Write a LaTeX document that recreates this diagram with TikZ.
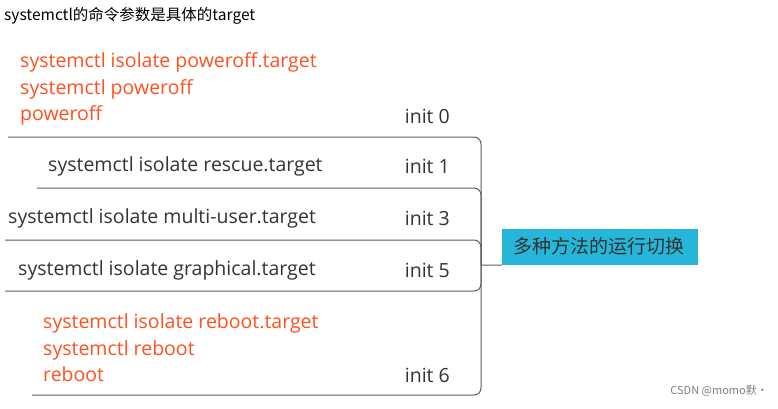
\documentclass[tikz,border=0pt]{standalone}
\usepackage{fontspec}
\setmainfont{Open Sans}
\newfontfamily\cjk{Noto Sans CJK SC}
\definecolor{hot}{HTML}{FF5020}
\definecolor{ink}{HTML}{333333}
\definecolor{rootblue}{HTML}{26B6DA}
\tikzset{
  leaf/.style={anchor=west, inner sep=0pt, text=ink, font=\fontsize{19.5}{20}\selectfont},
  hotleaf/.style={leaf, text=hot, align=left, font=\fontsize{19.5}{26.5}\selectfont},
  level/.style={anchor=east, inner sep=0pt, text=ink, font=\fontsize{19.5}{20}\selectfont},
  branch/.style={draw=ink!80, line width=1pt, rounded corners=7pt}
}
\begin{document}
\begin{tikzpicture}[x=1pt, y=-1pt]
    \useasboundingbox (0,0) rectangle (778,409);
    % title
    \node[anchor=west, inner sep=0pt, font=\cjk\fontsize{15.5}{18}\selectfont] (title) at (4,16) {systemctl的命令参数是具体的target};

    % root
    \node[anchor=west, fill=rootblue, minimum width=196pt, minimum height=36pt, inner sep=0pt] (root) at (502,247) {};
    \node[anchor=west, inner sep=0pt, text=ink, font=\cjk\fontsize{19}{22}\selectfont] (roottext) at (513,246) {多种方法的运行切换};
    \coordinate (hub) at (481,265);
    \draw[branch] (hub) -- (root.south west);

    % children
    \node[hotleaf] (off) at (20,89) {systemctl isolate poweroff.target\\systemctl poweroff\\poweroff};
    \node[level] (i0) at (450,116) {init 0};
    \node[leaf] (resc) at (48,166) {systemctl isolate rescue.target};
    \node[level] (i1) at (450,166) {init 1};
    \node[leaf] (multi) at (8,218) {systemctl isolate multi-user.target};
    \node[level] (i3) at (450,218) {init 3};
    \node[leaf] (graph) at (18,270) {systemctl isolate graphical.target};
    \node[level] (i5) at (450,270) {init 5};
    \node[hotleaf] (boot) at (43,348) {systemctl isolate reboot.target\\systemctl reboot\\reboot};
    \node[level] (i6) at (450,375) {init 6};

    % underlines into the trunk
    \draw[branch] (8,137) -- (481,137) -- (hub);
    \draw[branch] (37,188) -- (481,188) -- (hub);
    \draw[branch] (5,240) -- (481,240) -- (hub);
    \draw[branch] (5,291) -- (481,291) -- (hub);
    \draw[branch] (32,395) -- (481,395) -- (hub);

    % watermark
    \node[anchor=east, inner sep=0pt, text=gray, font=\cjk\fontsize{11}{13}\selectfont] (mark) at (768,391) {CSDN @momo默·};
\end{tikzpicture}
\end{document}
